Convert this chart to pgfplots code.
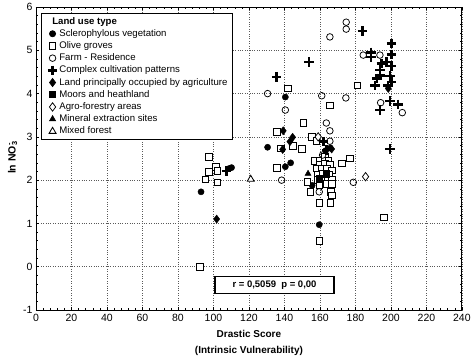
\documentclass[border=0pt]{standalone}
\usepackage{pgfplots}
\pgfplotsset{compat=1.18}
\usepackage{fontspec}
\setmainfont{Liberation Sans}
\begin{document}
\begin{tikzpicture}
\begin{axis}[
  scale only axis,
  width=426pt, height=303pt,
  xmin=0, xmax=240, ymin=-1, ymax=6,
  xtick={0,20,...,240}, ytick={-1,0,...,6},
  minor x tick num=4, minor y tick num=4,
  tick align=inside, tick pos=both,
  major tick length=3pt, minor tick length=2pt,
  every tick/.style={black, line width=0.5pt},
  axis line style={black, line width=0.9pt},
  grid=major,
  major grid style={dotted, gray!70!black, line width=0.6pt},
  /pgf/number format/assume math mode=true,
  ticklabel style={font=\fontsize{10.5}{12}\selectfont},
  xticklabel style={yshift=-1pt},
  xlabel={\textbf{Drastic Score}\\\textbf{(Intrinsic Vulnerability)}},
  xlabel style={align=center, font=\fontsize{10}{16}\selectfont, yshift=-1pt},
  ylabel={\textbf{ln NO}\rlap{\textsubscript{\textbf{3}}}\textsuperscript{\textbf{-}}},
  ylabel style={font=\fontsize{10.5}{12}\selectfont, yshift=-1pt},
  legend style={at={(0.011,0.98)}, anchor=north west, draw=black, line width=0.7pt,
    font=\fontsize{9.6}{11}\selectfont, cells={anchor=west},
    nodes={inner ysep=1.2pt, text height=7.4pt, text depth=2.4pt},
    inner xsep=3pt, inner ysep=2pt},
  legend cell align=left,
]
\addlegendimage{empty legend}
\addlegendentry{\hspace{-7pt}\textbf{Land use type}}

% Sclerophylous vegetation
\addplot[only marks, mark=*, mark size=3.1pt, draw=black, fill=black] coordinates {
(93,1.73) (108.9,2.27) (110.2,2.29) (130.5,2.76) (140.5,2.31) (143.5,2.40)
(140.5,3.92) (155.6,1.88) (159.6,0.97) (163.2,2.68) (165.8,2.74)
};
\addlegendentry{Sclerophylous vegetation}

% Olive groves
\addplot[only marks, mark=square*, mark size=3.3pt, draw=black, fill=white, line width=0.75pt] coordinates {
(97.3,2.54) (101.2,2.31) (97.3,2.19) (102.1,2.21) (95.4,2.02) (102.1,1.95) (92.2,0.0)
(135.6,3.12) (138,2.73) (144.6,2.79) (135.6,2.29) (152.9,1.96) (141.8,4.12)
(150.6,3.32) (155.6,3.0) (158.0,2.91) (149.9,2.72)
(172.2,2.39) (176.9,2.50) (181.2,4.19) (165.6,3.73) (196,1.14)
(159.6,0.60) (159.6,1.48) (165.9,1.48) (154.7,1.73) (166,1.73) (166.8,1.65)
(157.2,2.45) (160,2.45) (162.8,2.54) (164.7,2.46) (160,2.35) (162.8,2.39) (165.6,2.35)
(158.1,2.27) (160.9,2.27) (163.8,2.27) (166.6,2.23) (158.5,2.12) (161.5,2.15) (165.2,2.12)
(159,2.0) (161.9,2.0) (164.2,2.0) (166.6,2.02) (159.6,1.88) (163.8,1.91) (166.6,1.92)
};
\addlegendentry{Olive groves}

% Farm - Residence
\addplot[only marks, mark=o, mark size=3.3pt, draw=black, fill=white, line width=0.75pt] coordinates {
(130.5,4.0) (140.5,3.62) (138.4,2.0) (161,3.95) (163.6,3.32) (165.6,3.14) (165.6,2.90)
(161.5,2.58) (159.6,1.73) (165.6,5.31) (174.8,5.65) (174.8,5.49) (174.6,3.90)
(184.4,4.89) (193.8,4.89) (194.2,3.79) (206.4,3.56) (178.8,1.95)
};
\addlegendentry{Farm - Residence}

% Complex cultivation patterns
\addplot[only marks, mark=+, mark size=4.8pt, draw=black, mark options={line width=2.4pt}] coordinates {
(107.4,2.21) (135.6,4.39) (154,4.73) (184,5.45) (200.4,5.16) (188.7,4.95) (188.7,4.84)
(200.4,4.90) (194.7,4.70) (197.5,4.73) (200.4,4.64) (193.8,4.54) (193.8,4.42)
(199.4,4.40) (192,4.35) (191,4.19) (200.4,4.27) (198.5,4.19) (199.4,3.83) (204.1,3.75)
(193.8,3.62) (199.4,2.72) (161.9,2.89) (163.8,2.69)
};
\addlegendentry{Complex cultivation patterns}

% Land principally occupied by agriculture
\addplot[only marks, mark=diamond*, mark size=4.1pt, draw=black, fill=black] coordinates {
(101.8,1.10) (139.3,3.14) (139,2.71) (144.6,2.99) (143.1,2.89) (166.6,2.72) (198.5,4.12)
};
\addlegendentry{Land principally occupied by agriculture}

% Moors and heathland
\addplot[only marks, mark=square*, mark size=3.1pt, draw=black, fill=black] coordinates {
(159.4,2.04) (163.4,2.15)
};
\addlegendentry{Moors and heathland}

% Agro-forestry areas
\addplot[only marks, mark=diamond*, mark size=4.2pt, draw=black, fill=white, line width=0.75pt] coordinates {
(159,3.0) (185.7,2.08)
};
\addlegendentry{Agro-forestry areas}

% Mineral extraction sites
\addplot[only marks, mark=triangle*, mark size=3.5pt, draw=black, fill=black] coordinates {
(153.3,2.15)
};
\addlegendentry{Mineral extraction sites}

% Mixed forest
\addplot[only marks, mark=triangle*, mark size=4pt, draw=black, fill=white, line width=0.85pt] coordinates {
(121,2.02)
};
\addlegendentry{Mixed forest}

\node[draw=black, line width=1.3pt, fill=white, font=\bfseries\fontsize{9.5}{11}\selectfont,
  minimum width=119pt, minimum height=17pt, inner sep=1pt] at (axis cs:134.4,-0.43) {r = 0,5059\ \ p = 0,00};
\end{axis}
\path (current axis.south west) ++(-36pt,-49pt) coordinate (bbA);
\path (current axis.north east) ++(12pt,3.3pt) coordinate (bbB);
\path (bbA) rectangle (bbB);
\end{tikzpicture}
\end{document}
